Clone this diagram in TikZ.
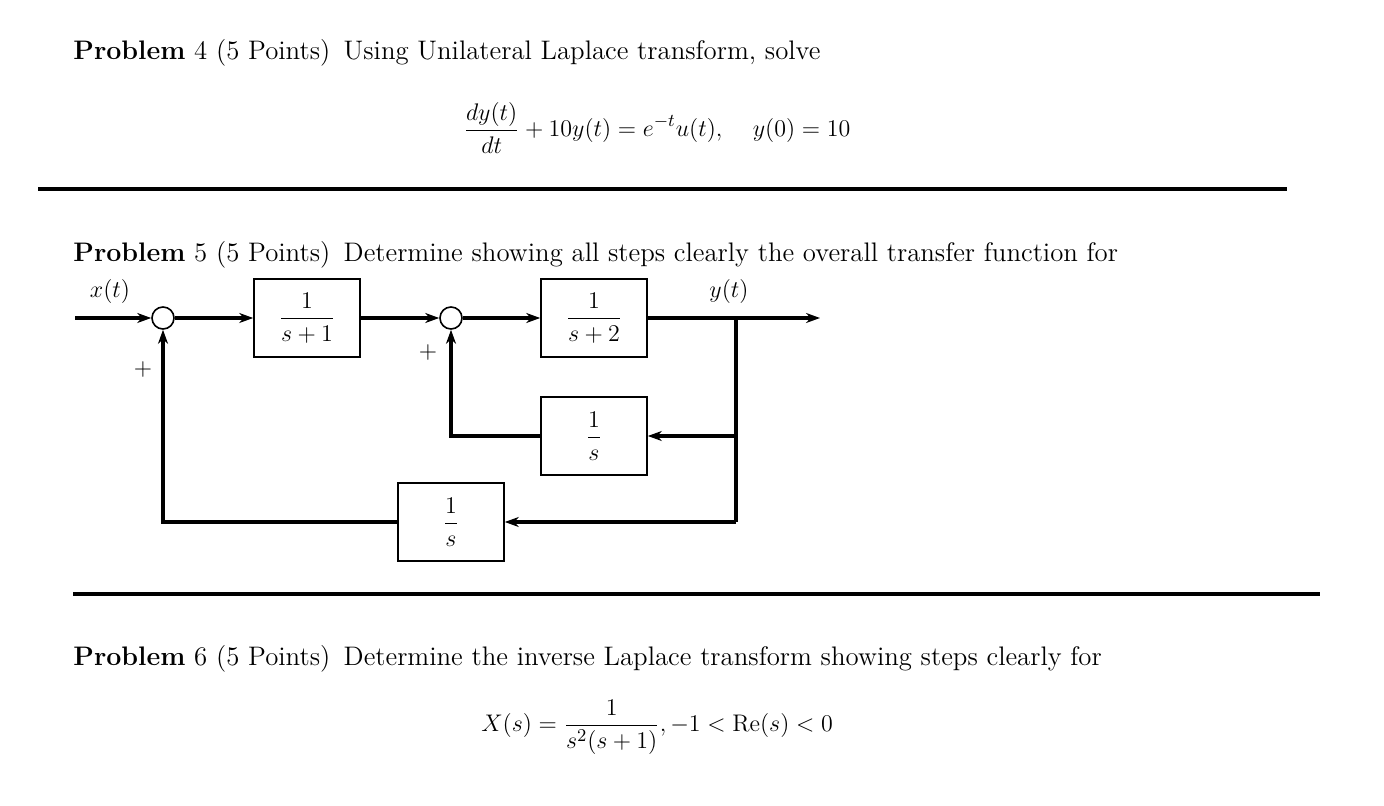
\documentclass[tikz,border=0pt]{standalone}
\usepackage{amsmath}
\usetikzlibrary{arrows.meta}
\begin{document}
\begin{tikzpicture}[x=0.5pt,y=-0.5pt,
  txt/.style={anchor=base west,inner sep=0pt,font=\fontsize{13.4}{16}\selectfont},
  blk/.style={draw,line width=0.8pt,minimum width=53pt,minimum height=39pt,inner sep=0pt,font=\fontsize{12.5}{15}\selectfont},
  sumc/.style={draw,circle,line width=0.8pt,minimum size=11pt,inner sep=0pt},
  wire/.style={line width=1.8pt},
  arr/.style={wire,-{Stealth[length=7pt,width=5pt]}},
  lbl/.style={font=\fontsize{13.2}{16}\selectfont,inner sep=0pt}]
\useasboundingbox (0,0) rectangle (1384,806);
\node[txt] (p4) at (73,60) {\textbf{Problem} 4 (5 Points)\enspace Using Unilateral Laplace transform, solve};
\node[lbl] (e4) at (657,128) {$\displaystyle \frac{dy(t)}{dt}+10y(t)=e^{-t}u(t),\quad y(0)=10$};
\draw[line width=2pt] (38,189) -- (1287,189);
\node[txt] (p5) at (73,262) {\textbf{Problem} 5 (5 Points)\enspace Determine showing all steps clearly the overall transfer function for};
\coordinate (in) at (75,318);
\node[sumc] (s1) at (163,318) {};
\node[blk] (b1) at (307,318) {$\dfrac{1}{s+1}$};
\node[sumc] (s2) at (451,318) {};
\node[blk] (b2) at (594,318) {$\dfrac{1}{s+2}$};
\coordinate (br) at (736,318);
\coordinate (out) at (820,318);
\node[blk] (b3) at (594,436) {$\dfrac{1}{s}$};
\node[blk] (b4) at (451,522) {$\dfrac{1}{s}$};
\node[lbl] (xl) at (110,292) {$x(t)$};
\node[lbl] (yl) at (729,292) {$y(t)$};
\node[lbl] (pl1) at (143,370) {$+$};
\node[lbl] (pl2) at (428,353) {$+$};
\draw[arr] (in) -- (s1);
\draw[arr] (s1) -- (b1);
\draw[arr] (b1) -- (s2);
\draw[arr] (s2) -- (b2);
\draw[wire] (b2) -- (br);
\draw[arr] (br) -- (out);
\draw[wire] (br) -- (736,522);
\draw[arr] (736,436) -- (b3);
\draw[arr] (b3.west) -| (s2);
\draw[arr] (736,522) -- (b4);
\draw[arr] (b4.west) -| (s1);
\draw[line width=2pt] (73,594) -- (1320,594);
\node[txt] (p6) at (73,665) {\textbf{Problem} 6 (5 Points)\enspace Determine the inverse Laplace transform showing steps clearly for};
\node[lbl] (e6) at (657,727) {$\displaystyle X(s)=\frac{1}{s^2(s+1)},-1<\mathrm{Re}(s)<0$};
\end{tikzpicture}
\end{document}
